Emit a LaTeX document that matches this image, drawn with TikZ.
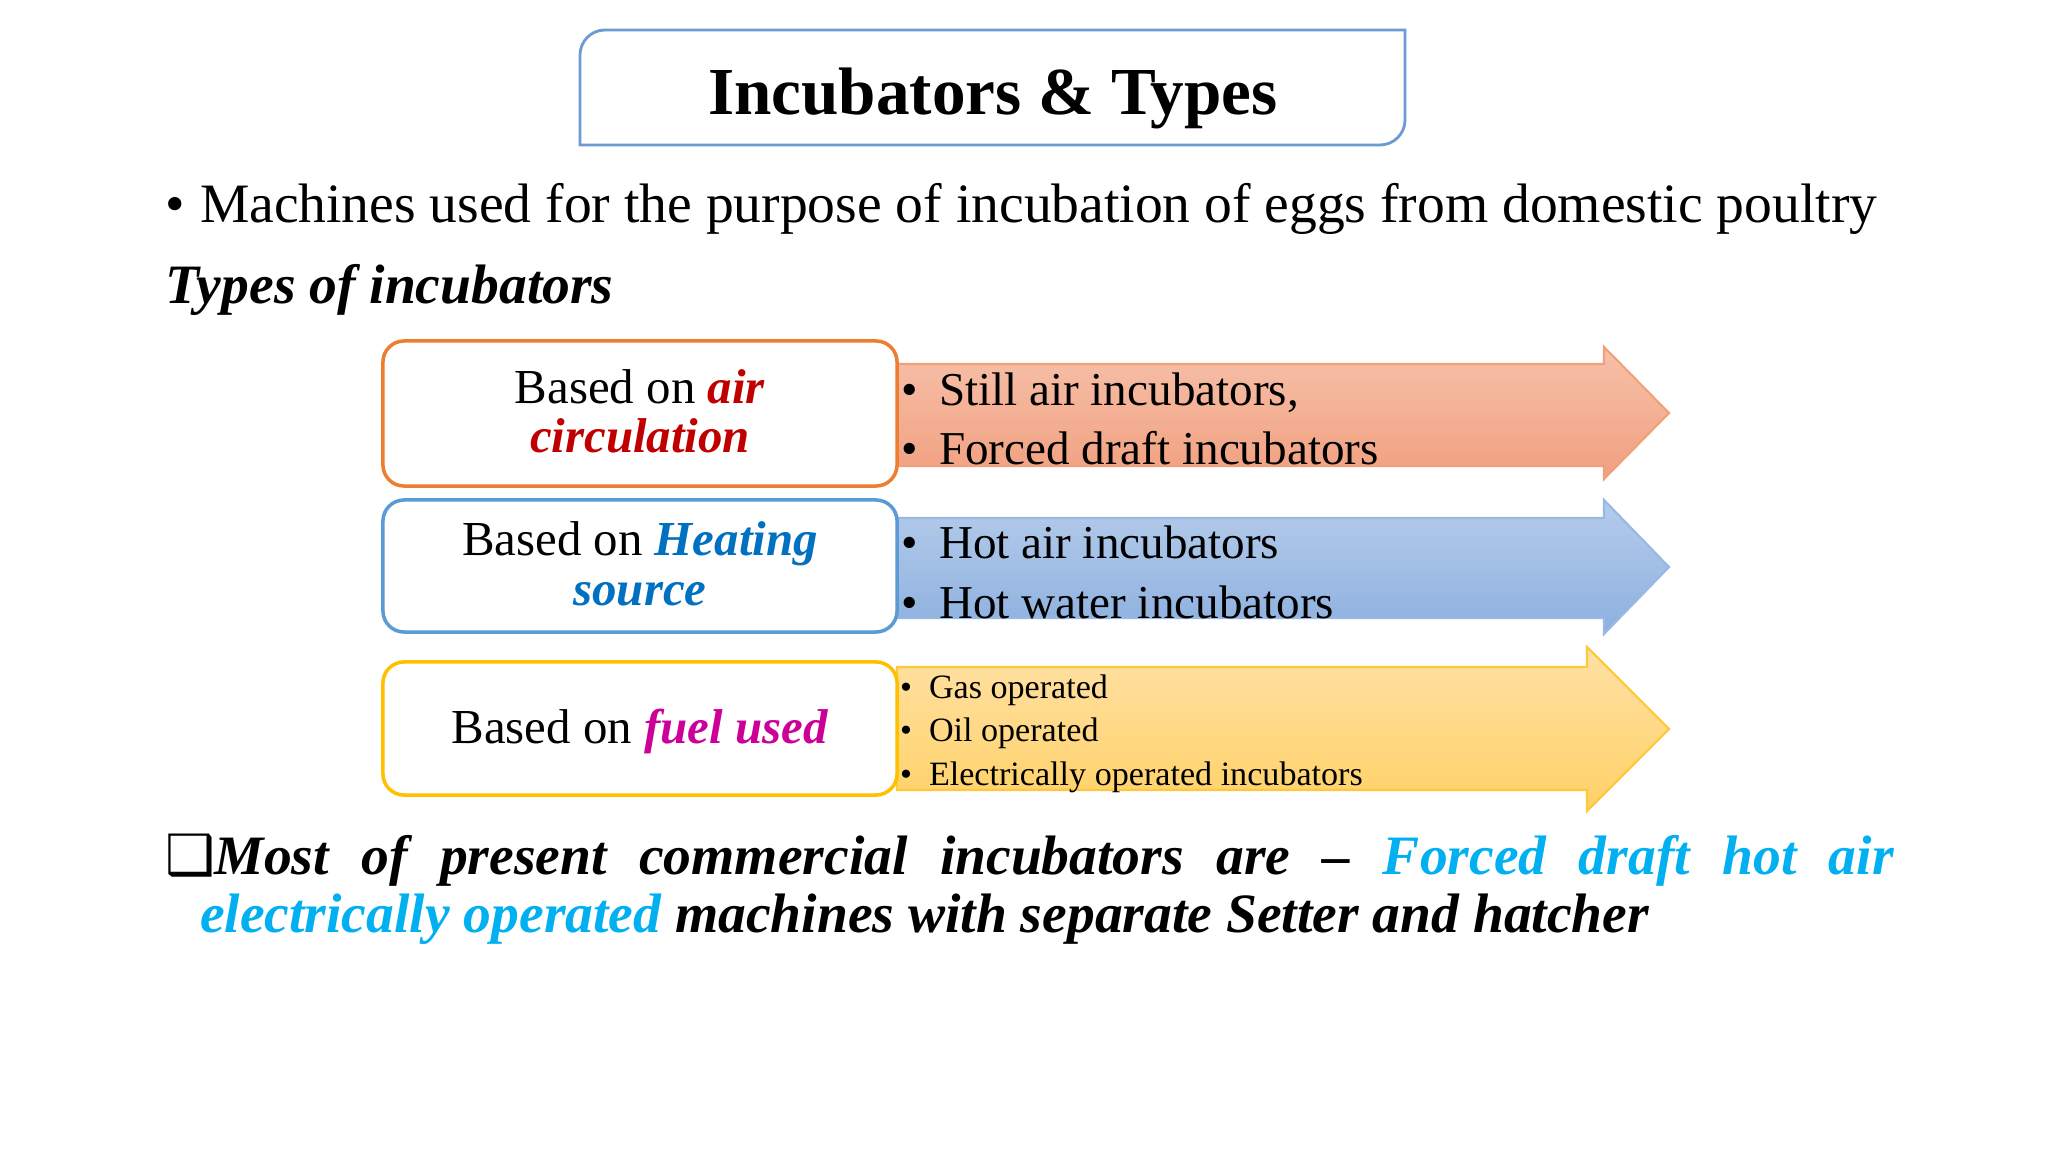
\documentclass[tikz,border=0pt]{standalone}
\usepackage{fontspec}
\setmainfont{Liberation Serif}
\newfontfamily\symfont{DejaVu Sans}
\definecolor{titleB}{HTML}{6C9BD2}
\definecolor{orangeB}{HTML}{ED7D31}
\definecolor{blueB}{HTML}{5B9BD5}
\definecolor{yellowB}{HTML}{FFC000}
\definecolor{airRed}{HTML}{C00000}
\definecolor{heatBlue}{HTML}{0070C0}
\definecolor{fuelMag}{HTML}{CC0099}
\definecolor{cyanT}{HTML}{00B0F0}
\definecolor{aOneTop}{HTML}{F6C1AA}
\definecolor{aOneBot}{HTML}{F1A07F}
\definecolor{aOneLine}{HTML}{F2A07A}
\definecolor{aTwoTop}{HTML}{B5CCEB}
\definecolor{aTwoBot}{HTML}{8DB0DF}
\definecolor{aTwoLine}{HTML}{98B9E4}
\definecolor{aThrTop}{HTML}{FFE1A6}
\definecolor{aThrBot}{HTML}{FFD166}
\definecolor{aThrLine}{HTML}{FFC83A}
\begin{document}
\begin{tikzpicture}[x=0.01cm,y=-0.01cm,
  txt/.style={inner sep=0pt, outer sep=0pt},
  body/.style={txt, font=\fontsize{15.8}{19}\selectfont},
  boxtxt/.style={txt, anchor=base, font=\fontsize{13.9}{17}\selectfont},
  arrtxt/.style={txt, anchor=base west, font=\fontsize{13.4}{16}\selectfont},
  smalltxt/.style={txt, anchor=base west, font=\fontsize{9.7}{12}\selectfont},
  catbox/.style={draw, line width=1pt, fill=white, rounded corners=6pt, minimum width=146.2pt, inner sep=0pt},
  bigarrow/.style={line width=0.6pt}]
\useasboundingbox[fill=white] (0,0) rectangle (2048,1152);

% title
\draw[draw=titleB, line width=0.8pt] (580,145) -- (580,55) arc[start angle=180,end angle=270,radius=25] -- (1405,30) -- (1405,120) arc[start angle=0,end angle=90,radius=25] -- cycle;
\node[txt, anchor=base, font=\fontsize{19.1}{23}\selectfont\bfseries] (title) at (993,115) {Incubators \& Types};

% intro
\node[body, anchor=base west] (bul) at (165,223) {•};
\node[body, anchor=base west] (intro) at (200,223) {Machines used for the purpose of incubation of eggs from domestic poultry};
\node[body, anchor=base west, font=\fontsize{15.8}{19}\selectfont\bfseries\itshape] (types) at (165,304) {Types of incubators};

% arrows
\shadedraw[bigarrow, top color=aOneTop, bottom color=aOneBot, draw=aOneLine] (897,364) -- (1604,364) -- (1604,347) -- (1669,413) -- (1604,479) -- (1604,466) -- (897,466) -- cycle;
\shadedraw[bigarrow, top color=aTwoTop, bottom color=aTwoBot, draw=aTwoLine] (897,518) -- (1604,518) -- (1604,500) -- (1669,567) -- (1604,634) -- (1604,618) -- (897,618) -- cycle;
\shadedraw[bigarrow, top color=aThrTop, bottom color=aThrBot, draw=aThrLine] (897,667) -- (1587,667) -- (1587,647) -- (1669,729) -- (1587,811) -- (1587,790) -- (897,790) -- cycle;

% category boxes
\node[catbox, draw=orangeB, minimum height=41.25pt] (boxA) at (640,413.5) {};
\node[catbox, draw=blueB, minimum height=37.55pt] (boxB) at (640,566) {};
\node[catbox, draw=yellowB, minimum height=37.84pt] (boxC) at (640,728.5) {};

\node[boxtxt] (boxAa) at (640,404) {Based on \textcolor{airRed}{\textbf{\textit{air}}}};
\node[boxtxt] (boxAb) at (640,453) {\textcolor{airRed}{\textbf{\textit{circulation}}}};
\node[boxtxt] (boxBa) at (640,555) {Based on \textcolor{heatBlue}{\textbf{\textit{Heating}}}};
\node[boxtxt] (boxBb) at (640,605) {\textcolor{heatBlue}{\textbf{\textit{source}}}};
\node[boxtxt] (boxCa) at (640,743) {Based on \textcolor{fuelMag}{\textbf{\textit{fuel used}}}};

% arrow texts
\node[arrtxt] (b1) at (901,406) {•};
\node[arrtxt] (t1) at (939,406) {Still air incubators,};
\node[arrtxt] (b2) at (901,465) {•};
\node[arrtxt] (t2) at (939,465) {Forced draft incubators};
\node[arrtxt] (b3) at (901,558) {•};
\node[arrtxt] (t3) at (939,558) {Hot air incubators};
\node[arrtxt] (b4) at (901,618) {•};
\node[arrtxt] (t4) at (939,618) {Hot water incubators};
\node[smalltxt] (b5) at (900,698) {•};
\node[smalltxt] (t5) at (929,698) {Gas operated};
\node[smalltxt] (b6) at (900,741) {•};
\node[smalltxt] (t6) at (929,741) {Oil operated};
\node[smalltxt] (b7) at (900,785) {•};
\node[smalltxt] (t7) at (929,785) {Electrically operated incubators};

% conclusion
\node[body, anchor=base west, font=\fontsize{15.8}{19}\selectfont\bfseries\itshape] (concA) at (165,874) {\makebox[491.6pt][s]{{\symfont\mdseries\upshape ❑}Most of present commercial incubators are – \textcolor{cyanT}{Forced draft hot air}}};
\node[body, anchor=base west, font=\fontsize{15.8}{19}\selectfont\bfseries\itshape] (concB) at (200,932) {\textcolor{cyanT}{electrically operated} machines with separate Setter and hatcher};
\end{tikzpicture}
\end{document}
